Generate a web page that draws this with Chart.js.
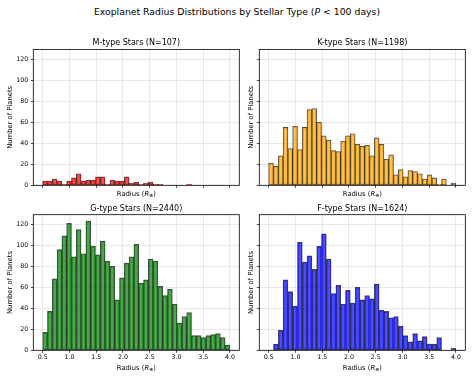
<!DOCTYPE html>
<html>
<head>
<meta charset="utf-8">
<script src="https://cdn.jsdelivr.net/npm/chart.js@4.4.0/dist/chart.umd.min.js"></script>
<style>
  html, body { margin: 0; padding: 0; background: #fff; }
  body { width: 474px; height: 379px; position: relative; overflow: hidden;
         font-family: "DejaVu Sans", sans-serif; }
  #suptitle { position: absolute; left: 0; top: 5px; width: 474px; text-align: center;
              font-size: 9.3px; line-height: 14px; color: #000; white-space: nowrap; }
  canvas { position: absolute; }
</style>
</head>
<body>
<div id="suptitle">Exoplanet Radius Distributions by Stellar Type (<i>P</i> &lt; 100 days)</div>
<canvas id="c-m"></canvas>
<canvas id="c-k"></canvas>
<canvas id="c-g"></canvas>
<canvas id="c-f"></canvas>
<script>
/* ================================================
   DATA  (39 bins, edges spread evenly 0.5 → 4.0)
================================================ */

const binStart = 0.5;
const binEnd   = 4.0;
const binCount = 39;

const xTicks = [0.5, 1.0, 1.5, 2.0, 2.5, 3.0, 3.5, 4.0];
const yTicks = [0, 20, 40, 60, 80, 100, 120];

const mTypeCounts = [4, 4, 6, 4, 1, 4, 7, 11, 4, 5, 5, 8, 8, 1, 5, 4, 4, 8, 2, 3,
                     1, 2, 3, 1, 1, 0, 0, 0, 0, 0, 1, 0, 0, 0, 0, 0, 0, 0, 0];
const kTypeCounts = [21, 18, 28, 55, 35, 56, 34, 55, 72, 73, 60, 47, 43, 33, 32, 42, 47, 49, 39, 37,
                     38, 28, 45, 39, 25, 29, 10, 15, 8, 14, 13, 11, 6, 10, 7, 1, 6, 0, 2];
const gTypeCounts = [17, 37, 68, 96, 109, 121, 89, 115, 92, 123, 99, 91, 104, 85, 80, 48, 69, 83, 89, 101,
                     64, 67, 87, 85, 61, 52, 58, 44, 26, 32, 36, 14, 14, 12, 14, 15, 16, 12, 5];
const fTypeCounts = [0, 6, 19, 67, 56, 42, 103, 84, 90, 77, 99, 111, 87, 54, 62, 44, 57, 45, 60, 48,
                     52, 49, 63, 38, 37, 31, 32, 23, 14, 8, 16, 9, 13, 6, 6, 12, 0, 0, 2];

const panelTitles = ['M-type Stars (N=107)', 'K-type Stars (N=1198)',
                     'G-type Stars (N=2440)', 'F-type Stars (N=1624)'];

/* ================================================
   STYLE
================================================ */

const FONT       = '"DejaVu Sans", sans-serif';
const TITLE_SIZE = 8;
const LABEL_SIZE = 6.8;
const TICK_SIZE  = 6.3;
const GRID       = 'rgba(176,176,176,0.35)';
const EDGE       = 'rgba(0,0,0,0.7)';

const binWidth   = (binEnd - binStart) / binCount;
const binCenters = mTypeCounts.map((_, i) => binStart + (i + 0.5) * binWidth);
const xPad = (binEnd - binStart) * 0.05;
const yMax = 123 * 1.05;

/* page-pixel layout of each subplot */
const panels = [
  { id: 'c-m', title: panelTitles[0], counts: mTypeCounts, fill: 'rgba(255,0,0,0.7)',
    canvas: { x: 0,   y: 25,  w: 245, h: 175 }, area: { l: 33.3,  t: 49.4,  r: 239.3, b: 185.3 },
    yLabelX: 10.7, xLabelY: 193.8, showX: false, showY: true },
  { id: 'c-k', title: panelTitles[1], counts: kTypeCounts, fill: 'rgba(255,165,0,0.7)',
    canvas: { x: 245, y: 25,  w: 229, h: 175 }, area: { l: 259.3, t: 49.4,  r: 465.3, b: 185.3 },
    yLabelX: 251,  xLabelY: 193.8, showX: false, showY: false },
  { id: 'c-g', title: panelTitles[2], counts: gTypeCounts, fill: 'rgba(0,128,0,0.7)',
    canvas: { x: 0,   y: 200, w: 245, h: 179 }, area: { l: 33.3,  t: 214.7, r: 239.3, b: 350.3 },
    yLabelX: 10.7, xLabelY: 368,   showX: true,  showY: true },
  { id: 'c-f', title: panelTitles[3], counts: fTypeCounts, fill: 'rgba(0,0,255,0.7)',
    canvas: { x: 245, y: 200, w: 229, h: 179 }, area: { l: 259.3, t: 214.7, r: 465.3, b: 350.3 },
    yLabelX: 251,  xLabelY: 368,   showX: true,  showY: false },
];

/* ================================================
   X LABEL  "Radius (R⊕)" with italic R and subscript
================================================ */

function drawRadiusLabel(ctx, cx, cy) {
  const parts = [
    { t: 'Radius (', f: `${LABEL_SIZE}px ${FONT}`,          dy: 0 },
    { t: 'R',        f: `italic ${LABEL_SIZE}px ${FONT}`,   dy: 0 },
    { t: '\u2295',   f: `${LABEL_SIZE * 0.7}px ${FONT}`,    dy: LABEL_SIZE * 0.28 },
    { t: ')',        f: `${LABEL_SIZE}px ${FONT}`,          dy: 0 },
  ];
  ctx.save();
  ctx.fillStyle = '#000';
  ctx.textBaseline = 'middle';
  let total = 0;
  parts.forEach(p => { ctx.font = p.f; p.w = ctx.measureText(p.t).width; total += p.w; });
  let x = cx - total / 2;
  parts.forEach(p => { ctx.font = p.f; ctx.fillText(p.t, x, cy + p.dy); x += p.w; });
  ctx.restore();
}

/* ================================================
   BUILD ONE SUBPLOT
================================================ */

function buildPanel(p) {
  const cv = document.getElementById(p.id);
  cv.width  = p.canvas.w;
  cv.height = p.canvas.h;
  cv.style.left = p.canvas.x + 'px';
  cv.style.top  = p.canvas.y + 'px';

  const titleLH   = TITLE_SIZE * 1.2;
  const titleTop  = (p.area.t - p.canvas.y) - titleLH - 1.4;
  const yAxisW    = p.area.l - p.canvas.x;
  const xAxisH    = p.canvas.y + p.canvas.h - p.area.b;
  const padRight  = p.canvas.x + p.canvas.w - p.area.r;
  const yTitlePad = p.yLabelX - p.canvas.x - (LABEL_SIZE * 1.2) / 2;

  const framePlugin = {
    id: 'frame',
    afterDraw(chart) {
      const { ctx, chartArea: a } = chart;
      ctx.save();
      ctx.strokeStyle = '#000';
      ctx.lineWidth = 0.8;
      ctx.strokeRect(a.left, a.top, a.right - a.left, a.bottom - a.top);
      ctx.restore();
      drawRadiusLabel(ctx, (a.left + a.right) / 2, p.xLabelY - p.canvas.y);
    },
  };

  new Chart(cv, {
    type: 'bar',
    data: {
      datasets: [{
        data: binCenters.map((x, i) => ({ x, y: p.counts[i] })),
        backgroundColor: p.fill,
        borderColor:     EDGE,
        borderWidth:     0.8,
        borderSkipped:   false,
        barPercentage:      1,
        categoryPercentage: 1,
      }],
    },
    options: {
      responsive: false,
      animation:  false,
      layout: { padding: { left: 0, top: 0, right: padRight, bottom: 0 } },
      plugins: {
        legend:  { display: false },
        tooltip: { enabled: false },
        title: {
          display: true,
          text:    p.title,
          fullSize: false,
          color:   '#000',
          font:    { family: FONT, size: TITLE_SIZE, weight: 'normal', lineHeight: 1.2 },
          padding: { top: titleTop, bottom: 1.4 },
        },
      },
      scales: {
        x: {
          type: 'linear',
          min:  binStart - xPad,
          max:  binEnd + xPad,
          offset: false,
          afterBuildTicks: s => { s.ticks = xTicks.map(v => ({ value: v })); },
          afterFit: s => { s.height = xAxisH; },
          border: { display: false },
          grid: { color: GRID, lineWidth: 0.8, offset: false,
                  tickLength: 2.5, tickColor: '#000', tickWidth: 0.7 },
          ticks: { display: p.showX, color: '#000', padding: 1, maxRotation: 0, autoSkip: false,
                   font: { family: FONT, size: TICK_SIZE }, callback: v => v.toFixed(1) },
        },
        y: {
          min: 0,
          max: yMax,
          afterBuildTicks: s => { s.ticks = yTicks.map(v => ({ value: v })); },
          afterFit: s => { s.width = yAxisW; },
          border: { display: false },
          grid: { color: GRID, lineWidth: 0.8,
                  tickLength: 2.5, tickColor: '#000', tickWidth: 0.7 },
          ticks: { display: p.showY, color: '#000', padding: 2.5,
                   font: { family: FONT, size: TICK_SIZE }, callback: v => String(v) },
          title: {
            display: true,
            text:    'Number of Planets',
            color:   '#000',
            font:    { family: FONT, size: LABEL_SIZE, lineHeight: 1.2 },
            padding: { top: yTitlePad, bottom: 0 },
          },
        },
      },
    },
    plugins: [framePlugin],
  });
}

panels.forEach(buildPanel);
</script>
</body>
</html>
